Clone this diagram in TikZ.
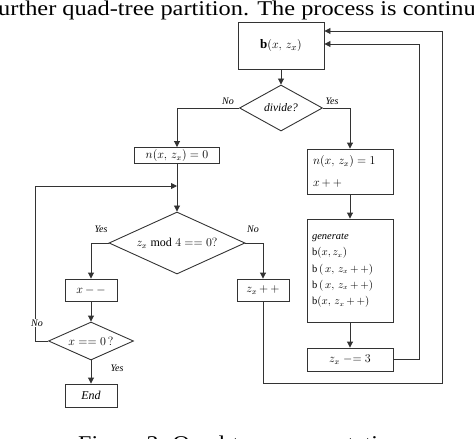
\documentclass[tikz,border=0pt]{standalone}
\usepackage{fontspec}
\setmainfont{Liberation Serif}
\usepackage{tikz}
\usetikzlibrary{arrows.meta,shapes.geometric}
\tikzset{
  bx/.style={draw=black!80,line width=0.9pt,inner sep=2pt,font=\fontsize{12}{14}\selectfont},
  dmd/.style={diamond,draw=black!80,line width=0.9pt,inner sep=0pt,aspect=2,font=\fontsize{12}{14}\selectfont},
  fl/.style={draw=black!80,line width=0.9pt,-{Triangle[length=6pt,width=6pt]}},
  yn/.style={font=\itshape\fontsize{10}{12}\selectfont,inner sep=0.5pt},
  pagetxt/.style={font=\fontsize{21}{23}\selectfont,inner sep=0pt}
}
\newcommand{\zx}{z_{x}}
\newcommand{\pp}{\,{+}\,{+}}

\begin{document}
\begin{tikzpicture}[x=1pt,y=-1pt]
\useasboundingbox (0,0) rectangle (474,439);
\clip (0,0) rectangle (474,439);
% text of the page round the figure
\node[pagetxt,anchor=base] (toptext) at (237,15) {\scalebox{1.16}[1]{urther quad-tree partition. The process is continu}};
\node[pagetxt,anchor=base west] (figcap) at (78,450) {\scalebox{1.14}[1]{Figure 3. Quad-tree segmentation}};
% boxes and tests
\node[bx,minimum width=86,minimum height=47,font=\fontsize{13}{15}\selectfont] (bnode) at (281,45.5) {$\mathbf{b}(x,\,\zx)$};
\node[dmd,minimum width=83,minimum height=46,font=\itshape\fontsize{11.5}{13}\selectfont] (divq) at (281,108) {divide?};
\node[bx,minimum width=85,minimum height=15] (nzero) at (177,155.5) {$n(x,\,\zx)=0$};
\node[bx,minimum width=86,minimum height=45,text width=74,inner xsep=6,align=left,font=\fontsize{12}{22}\selectfont] (none) at (350,171.5) {$n(x,\,\zx)=1$\\$x\pp$};
\node[bx,minimum width=86,minimum height=103,text width=76,inner xsep=5,align=left,font=\fontsize{10.5}{16.2}\selectfont] (gen) at (350,270.5) {\textit{generate}\\$\mathrm{b}(x,\zx)$\\$\mathrm{b}\,(\,x,\,\zx\pp)$\\$\mathrm{b}\,(\,x,\,\zx\pp)$\\$\mathrm{b}(x,\,\zx\pp)$};
\node[bx,minimum width=86,minimum height=23] (zmin) at (350,359.5) {$\zx \mathrel{-}= 3$};
\node[dmd,minimum width=136,minimum height=62] (modq) at (177,243) {$\zx \bmod 4 == 0?$};
\node[bx,minimum width=52,minimum height=22] (xmm) at (91,290) {$x\,{-}\,{-}$};
\node[bx,minimum width=52,minimum height=22] (zpp) at (263,290) {$\zx\pp$};
\node[dmd,minimum width=85,minimum height=38] (xzq) at (91,341) {$x == 0\,?$};
\node[bx,minimum width=52,minimum height=23,font=\itshape\fontsize{12}{14}\selectfont] (endn) at (91,395.5) {End};
% connectors
\draw[fl] (bnode) -- (divq);
\draw[fl] (divq.west) -| (nzero.north);
\draw[fl] (divq.east) -| (none.north);
\draw[fl] (nzero) -- (modq);
\draw[fl] (none) -- (gen);
\draw[fl] (gen) -- (zmin);
\draw[fl] (modq.west) -| (xmm.north);
\draw[fl] (modq.east) -| (zpp.north);
\draw[fl] (xmm) -- (xzq);
\draw[fl] (xzq) -- (endn);
\coordinate (loopin) at (177,186);
\draw[fl] (xzq.west) -- ++(-13,0) |- (loopin);
\coordinate (inr) at (419,44);
\draw[fl] (zmin.east) -| (inr) -- (inr -| bnode.east);
\coordinate (outr) at (442,383);
\coordinate (outtop) at (442,31);
\draw[fl] (zpp.south) |- (outr) -- (outtop) -- (outtop -| bnode.east);
% branch labels
\node[yn] (no1) at (228,101) {No};
\node[yn] (yes1) at (332,101) {Yes};
\node[yn] (yes2) at (101,229) {Yes};
\node[yn] (no2) at (253,229) {No};
\node[yn,fill=white] (no3) at (37,323) {No};
\node[yn] (yes3) at (117,368) {Yes};
\end{tikzpicture}
\end{document}
